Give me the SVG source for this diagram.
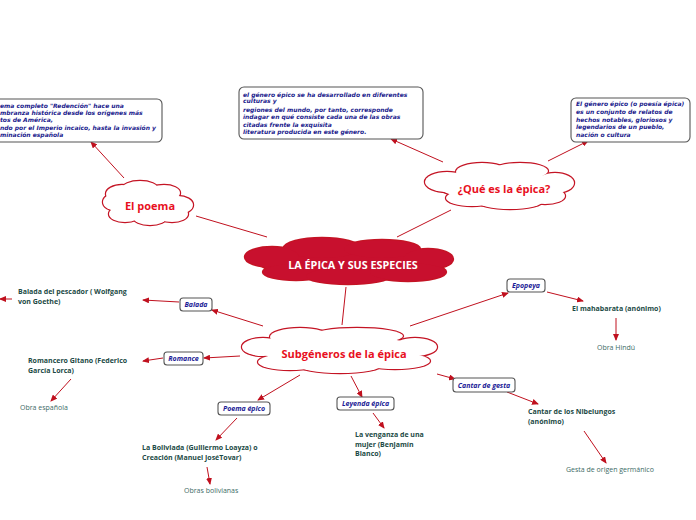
<svg xmlns="http://www.w3.org/2000/svg" width="696" height="520" viewBox="0 0 696 520">
<defs>
<style>
.ln{stroke:#c0101e;stroke-width:1;fill:none}
.ar{stroke:#c0101e;stroke-width:1;fill:none;marker-end:url(#ah)}
.co{stroke:#c41424;stroke-width:2.4}
.cf{fill:#fff}
.ccf{fill:#c8102e}
.cloudt{font-family:"Open Sans","Noto Sans",sans-serif;font-weight:bold;fill:#e8101e;font-size:11px;text-anchor:middle}
.maint{font-family:"Open Sans","Noto Sans",sans-serif;font-weight:bold;fill:#fff;font-size:10.8px;text-anchor:middle}
.bx{fill:#fff;stroke:#555;stroke-width:1.1}
.bt{font-family:"DejaVu Sans","Verdana",sans-serif;font-weight:bold;font-style:italic;fill:#1a1a8c;font-size:6px}
.lt{font-family:"Open Sans","Noto Sans",sans-serif;font-weight:bold;font-style:italic;fill:#1a1a96;font-size:7px;text-anchor:middle}
.ch{font-family:"Open Sans","Noto Sans",sans-serif;font-weight:bold;fill:#1c4a45;font-size:7px}
.gc{font-family:"Open Sans","Noto Sans",sans-serif;fill:#3d6b66;font-size:7px}
</style>
<marker id="ah" markerUnits="userSpaceOnUse" markerWidth="7" markerHeight="6" refX="6" refY="3" orient="auto">
<path d="M0,0 L7,3 L0,6 z" fill="#c0101e"/>
</marker>
</defs>

<g id="connectors">
<line class="ln" x1="267" y1="237" x2="196" y2="216"/>
<line class="ln" x1="397" y1="237" x2="451" y2="210"/>
<line class="ln" x1="346" y1="287" x2="342" y2="325"/>
<line class="ar" x1="124" y1="178" x2="91" y2="142"/>
<line class="ar" x1="443" y1="162" x2="391" y2="139"/>
<line class="ar" x1="548" y1="161" x2="588" y2="141"/>
<line class="ar" x1="263" y1="326" x2="212" y2="310"/>
<line class="ar" x1="240" y1="356" x2="204" y2="358"/>
<line class="ar" x1="300" y1="375" x2="258" y2="400"/>
<line class="ar" x1="351" y1="376" x2="362" y2="397"/>
<line class="ar" x1="437" y1="374" x2="455" y2="379"/>
<line class="ar" x1="410" y1="326" x2="508" y2="293"/>
<line class="ar" x1="179" y1="302" x2="143" y2="300"/>
<line class="ar" x1="12" y1="299" x2="0" y2="299"/>
<line class="ar" x1="163" y1="358" x2="143" y2="361"/>
<line class="ar" x1="71" y1="379" x2="51" y2="401"/>
<line class="ar" x1="237" y1="418" x2="216" y2="440"/>
<line class="ar" x1="207" y1="467" x2="210" y2="484"/>
<line class="ar" x1="373" y1="413" x2="384" y2="428"/>
<line class="ar" x1="507" y1="392" x2="538" y2="404"/>
<line class="ar" x1="584" y1="431" x2="606" y2="463"/>
<line class="ar" x1="547" y1="292" x2="583" y2="301"/>
<line class="ar" x1="616" y1="318" x2="616" y2="340"/>
</g>

<g id="central">
<g class="co">
<ellipse cx="349" cy="262" rx="90" ry="16"/><ellipse cx="322" cy="248" rx="38" ry="10"/><ellipse cx="382" cy="249" rx="38" ry="9"/><ellipse cx="272" cy="257" rx="27" ry="10"/><ellipse cx="428" cy="259" rx="25" ry="10"/><ellipse cx="296" cy="272" rx="33" ry="8"/><ellipse cx="348" cy="276" rx="42" ry="8"/><ellipse cx="408" cy="272" rx="38" ry="9"/>
</g>
<g class="ccf">
<ellipse cx="349" cy="262" rx="90" ry="16"/><ellipse cx="322" cy="248" rx="38" ry="10"/><ellipse cx="382" cy="249" rx="38" ry="9"/><ellipse cx="272" cy="257" rx="27" ry="10"/><ellipse cx="428" cy="259" rx="25" ry="10"/><ellipse cx="296" cy="272" rx="33" ry="8"/><ellipse cx="348" cy="276" rx="42" ry="8"/><ellipse cx="408" cy="272" rx="38" ry="9"/>
</g>
<text class="maint" x="353" y="269">LA ÉPICA Y SUS ESPECIES</text>
</g>

<g id="elpoema">
<g class="co">
<ellipse cx="148" cy="204" rx="38" ry="13"/><ellipse cx="122" cy="194" rx="16" ry="9"/><ellipse cx="140" cy="189" rx="18" ry="8"/><ellipse cx="164" cy="193" rx="16" ry="8"/><ellipse cx="178" cy="205" rx="15" ry="9"/><ellipse cx="125" cy="214" rx="16" ry="8"/><ellipse cx="150" cy="217" rx="17" ry="8"/><ellipse cx="172" cy="214" rx="16" ry="8"/><ellipse cx="117" cy="202" rx="14" ry="9"/>
</g>
<g class="cf">
<ellipse cx="148" cy="204" rx="38" ry="13"/><ellipse cx="122" cy="194" rx="16" ry="9"/><ellipse cx="140" cy="189" rx="18" ry="8"/><ellipse cx="164" cy="193" rx="16" ry="8"/><ellipse cx="178" cy="205" rx="15" ry="9"/><ellipse cx="125" cy="214" rx="16" ry="8"/><ellipse cx="150" cy="217" rx="17" ry="8"/><ellipse cx="172" cy="214" rx="16" ry="8"/><ellipse cx="117" cy="202" rx="14" ry="9"/>
</g>
<text class="cloudt" x="150" y="210">El poema</text>
</g>

<g id="quees">
<g class="co">
<ellipse cx="500" cy="186" rx="62" ry="14"/><ellipse cx="447" cy="182" rx="22" ry="10"/><ellipse cx="482" cy="172" rx="26" ry="9"/><ellipse cx="520" cy="171" rx="28" ry="8"/><ellipse cx="555" cy="183" rx="19" ry="10"/><ellipse cx="472" cy="198" rx="26" ry="8"/><ellipse cx="510" cy="201" rx="33" ry="8"/><ellipse cx="545" cy="196" rx="20" ry="8"/>
</g>
<g class="cf">
<ellipse cx="500" cy="186" rx="62" ry="14"/><ellipse cx="447" cy="182" rx="22" ry="10"/><ellipse cx="482" cy="172" rx="26" ry="9"/><ellipse cx="520" cy="171" rx="28" ry="8"/><ellipse cx="555" cy="183" rx="19" ry="10"/><ellipse cx="472" cy="198" rx="26" ry="8"/><ellipse cx="510" cy="201" rx="33" ry="8"/><ellipse cx="545" cy="196" rx="20" ry="8"/>
</g>
<text class="cloudt" x="504" y="193">¿Qué es la épica?</text>
</g>

<g id="subgeneros">
<g class="co">
<ellipse cx="340" cy="350" rx="80" ry="14"/><ellipse cx="263" cy="347" rx="21" ry="9"/><ellipse cx="300" cy="337" rx="30" ry="9"/><ellipse cx="357" cy="336" rx="46" ry="8"/><ellipse cx="415" cy="347" rx="22" ry="9"/><ellipse cx="290" cy="362" rx="32" ry="8"/><ellipse cx="340" cy="365" rx="42" ry="8"/><ellipse cx="395" cy="361" rx="35" ry="8"/>
</g>
<g class="cf">
<ellipse cx="340" cy="350" rx="80" ry="14"/><ellipse cx="263" cy="347" rx="21" ry="9"/><ellipse cx="300" cy="337" rx="30" ry="9"/><ellipse cx="357" cy="336" rx="46" ry="8"/><ellipse cx="415" cy="347" rx="22" ry="9"/><ellipse cx="290" cy="362" rx="32" ry="8"/><ellipse cx="340" cy="365" rx="42" ry="8"/><ellipse cx="395" cy="361" rx="35" ry="8"/>
</g>
<text class="cloudt" x="344" y="358">Subgéneros de la épica</text>
</g>

<g id="box-poema">
<rect class="bx" x="-10" y="99" width="172" height="43" rx="5"/>
<text class="bt" x="0" y="107.5">ema completo "Redención" hace una</text>
<text class="bt" x="0" y="115">mbranza histórica desde los orígenes más</text>
<text class="bt" x="0" y="122">tos de América,</text>
<text class="bt" x="0" y="129.5">ndo por el Imperio incaico, hasta la invasión y</text>
<text class="bt" x="0" y="137">minación española</text>
</g>

<g id="box-desarrollo">
<rect class="bx" x="239" y="87" width="184" height="52" rx="5"/>
<text class="bt" x="243" y="96.5">el género épico se ha desarrollado en diferentes</text>
<text class="bt" x="243" y="103">culturas y</text>
<text class="bt" x="243" y="111.5">regiones del mundo, por tanto, corresponde</text>
<text class="bt" x="243" y="119">indagar en qué consiste cada una de las obras</text>
<text class="bt" x="243" y="126.5">citadas frente la exquisita</text>
<text class="bt" x="243" y="133.5">literatura producida en este género.</text>
</g>

<g id="box-definicion">
<rect class="bx" x="571" y="98" width="119" height="44" rx="5"/>
<text class="bt" x="576" y="106">El género épico (o poesía épica)</text>
<text class="bt" x="576" y="114">es un conjunto de relatos de</text>
<text class="bt" x="576" y="121.5">hechos notables, gloriosos y</text>
<text class="bt" x="576" y="129">legendarios de un pueblo,</text>
<text class="bt" x="576" y="136.5">nación o cultura</text>
</g>

<g id="balada">
<rect class="bx" x="180" y="298" width="32" height="13" rx="3"/>
<text class="lt" x="196" y="307">Balada</text>
</g>
<g id="romance">
<rect class="bx" x="164" y="352" width="39" height="13" rx="3"/>
<text class="lt" x="183.5" y="361">Romance</text>
</g>
<g id="poemaepico">
<rect class="bx" x="218" y="402" width="52" height="13" rx="3"/>
<text class="lt" x="244" y="411">Poema épico</text>
</g>
<g id="leyenda">
<rect class="bx" x="337" y="397" width="57" height="13" rx="3"/>
<text class="lt" x="365.5" y="406">Leyenda épica</text>
</g>
<g id="cantar">
<rect class="bx" x="453" y="378" width="62" height="14" rx="3"/>
<text class="lt" x="484" y="387.5">Cantar de gesta</text>
</g>
<g id="epopeya">
<rect class="bx" x="507" y="279" width="38" height="13" rx="3"/>
<text class="lt" x="526" y="288">Epopeya</text>
</g>

<g id="pescador">
<text class="ch" x="18" y="294">Balada del pescador ( Wolfgang</text>
<text class="ch" x="18" y="304">von Goethe)</text>
</g>
<g id="romancero">
<text class="ch" x="28" y="363">Romancero Gitano (Federico</text>
<text class="ch" x="28" y="373">García Lorca)</text>
</g>
<g id="obraespanola"><text class="gc" x="20" y="410">Obra española</text></g>
<g id="boliviada">
<text class="ch" x="142" y="450">La Boliviada (Guillermo Loayza) o</text>
<text class="ch" x="142" y="460">Creación (Manuel JoséTovar)</text>
</g>
<g id="obrasbolivianas"><text class="gc" x="184" y="493">Obras bolivianas</text></g>
<g id="venganza">
<text class="ch" x="355" y="437">La venganza de una</text>
<text class="ch" x="355" y="446.5">mujer (Benjamín</text>
<text class="ch" x="355" y="456">Blanco)</text>
</g>
<g id="nibelungos">
<text class="ch" x="528" y="414">Cantar de los Nibelungos</text>
<text class="ch" x="528" y="424">(anónimo)</text>
</g>
<g id="germanico"><text class="gc" x="566" y="472">Gesta de origen germánico</text></g>
<g id="mahabarata"><text class="ch" x="572" y="311">El mahabarata (anónimo)</text></g>
<g id="hindu"><text class="gc" x="597" y="350">Obra Hindú</text></g>
</svg>
